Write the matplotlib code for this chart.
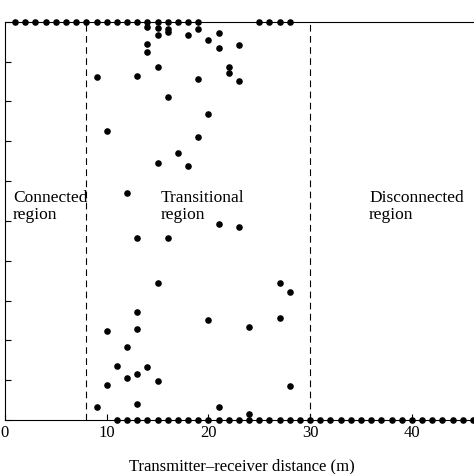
import numpy as np
import matplotlib.pyplot as plt

plt.rcParams['font.family'] = ['Liberation Serif', 'DejaVu Serif']

# links with PRR = 1 and PRR = 0
top_x = list(range(1, 20)) + [25, 26, 27, 28]
top_y = [1.0] * len(top_x)
bottom_x = list(range(11, 47))
bottom_y = [0.0] * len(bottom_x)

# links in between
mid_x = [14, 15, 16, 16, 19,
         9, 13, 10, 14, 14, 15, 15, 16, 18, 19, 20, 21, 21, 22, 22, 23, 23,
         20, 19, 17, 15, 18, 12,
         21, 23, 13, 16, 15, 27, 28, 13, 20, 27, 10, 13, 24, 12, 11, 14,
         13, 12, 15, 10, 28, 9, 13, 21, 24]
mid_y = [0.987, 0.985, 0.982, 0.975, 0.982,
         0.862, 0.864, 0.726, 0.945, 0.925, 0.967, 0.887, 0.81, 0.967, 0.857,
         0.955, 0.972, 0.935, 0.887, 0.872, 0.942, 0.852,
         0.769, 0.711, 0.671, 0.646, 0.638, 0.570,
         0.492, 0.485, 0.458, 0.457, 0.344, 0.344, 0.322, 0.271, 0.252, 0.256,
         0.224, 0.229, 0.234, 0.184, 0.136, 0.132,
         0.116, 0.106, 0.099, 0.088, 0.085, 0.033, 0.040, 0.033, 0.015]

fig = plt.figure(figsize=(4.74, 4.74), dpi=100)
ax = fig.add_axes([0.0105, 0.114, 1.0, 0.84])

xs = top_x + mid_x + bottom_x
ys = top_y + mid_y + bottom_y
ax.scatter(xs, ys, s=14, color='black', zorder=3, clip_on=False)

ax.axvline(8, color='black', linestyle=(0, (6, 4)), linewidth=0.8)
ax.axvline(30, color='black', linestyle=(0, (6, 4)), linewidth=0.8)

ax.text(0.8, 0.495, 'Connected\nregion', fontsize=12.5, va='bottom', linespacing=1.1)
ax.text(15.3, 0.495, 'Transitional\nregion', fontsize=12.5, va='bottom', linespacing=1.1)
ax.text(35.8, 0.495, 'Disconnected\nregion', fontsize=12.5, va='bottom', linespacing=1.1)

ax.set_xlim(0, 46.6)
ax.set_ylim(0, 1)
ax.set_xticks([0, 10, 20, 30, 40])
ax.set_yticks(np.arange(0, 1.01, 0.1))
ax.set_yticklabels([])
ax.tick_params(direction='in', labelsize=12, length=4)
ax.set_xlabel('Transmitter\u2013receiver distance (m)', fontsize=12, labelpad=13)

fig.savefig('out.png', dpi=100)
